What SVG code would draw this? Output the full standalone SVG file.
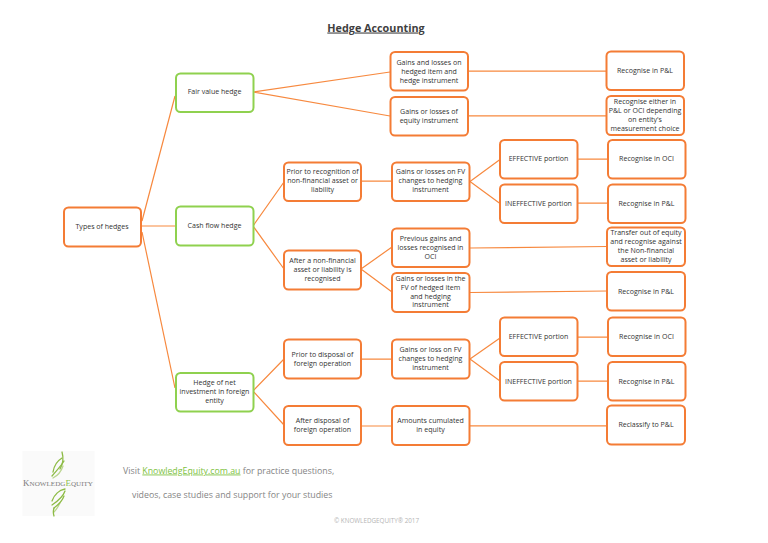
<svg xmlns="http://www.w3.org/2000/svg" width="768" height="543" viewBox="0 0 768 543">
<style>
text{font-family:"Open Sans","Noto Sans","Liberation Sans",sans-serif;}
.n rect{fill:#fff;stroke:#f47c35;stroke-width:2;}
.g rect{fill:#fff;stroke:#8fd14f;stroke-width:2;}
.n text,.g text{font-size:7.050px;fill:#333;text-anchor:middle;}
#connectors path{fill:none;stroke:#f7893f;stroke-width:1.200;}
.foot{font-size:8.800px;fill:#858585;}
.leaf{fill:none;stroke:#8dbb45;stroke-linecap:round;}
</style>
<rect width="768" height="543" fill="#fff"/>
<text x="376" y="31.500" font-size="10.800" font-weight="700" fill="#3f3f3f" text-anchor="middle" text-decoration="underline">Hedge Accounting</text>
<g id="connectors">
<path d="M142 221L175 96M142 226H176M142 232L175 388"/>
<path d="M253 92L390 72M253 92L390 116"/>
<path d="M253 226L284 182M253 226L284 269"/>
<path d="M361 181.200H392M361 269L392 247M361 269L392 292"/>
<path d="M253 391L284 359M253 391L284 425"/>
<path d="M361 359.200H392M361 426H392"/>
<path d="M468 71.200H606M468 115.800H606"/>
<path d="M470 181.500L500 159.500M470 181.500L500 203.500"/>
<path d="M470 359L500 338M470 359L500 381"/>
<path d="M577 159.200H608M577 203.200H608M577 337.200H608M577 381.200H608"/>
<path d="M470 248L607 246.500M470 292.500L607 291M470 425.800H607"/>
</g>
<g id="types" class="n"><rect x="64" y="207.500" width="77" height="39" rx="4.500"/><text x="102" y="229">Types of hedges</text></g>
<g id="fair-value" class="g"><rect x="176" y="73.500" width="77.500" height="38.500" rx="4.500"/><text x="214.500" y="94">Fair value hedge</text></g>
<g id="cash-flow" class="g"><rect x="176" y="206.500" width="77.500" height="39" rx="4.500"/><text x="214.500" y="228">Cash flow hedge</text></g>
<g id="net-investment" class="g"><rect x="176" y="373" width="77.500" height="38.500" rx="4.500"/><text x="214.500" y="385">Hedge of net</text><text x="214.500" y="394">investment in foreign</text><text x="214.500" y="403">entity</text></g>
<g id="prior-recognition" class="n"><rect x="284" y="162.500" width="77" height="38.500" rx="4.500"/><text x="322.500" y="174">Prior to recognition of</text><text x="322.500" y="183">non-financial asset or</text><text x="322.500" y="192">liability</text></g>
<g id="after-nonfinancial" class="n"><rect x="284" y="250.500" width="77" height="39" rx="4.500"/><text x="322.500" y="263">After a non-financial</text><text x="322.500" y="272">asset or liability is</text><text x="322.500" y="281">recognised</text></g>
<g id="prior-disposal" class="n"><rect x="284" y="339.500" width="77" height="39" rx="4.500"/><text x="322.500" y="356.500">Prior to disposal of</text><text x="322.500" y="365.500">foreign operation</text></g>
<g id="after-disposal" class="n"><rect x="284" y="406" width="77" height="39" rx="4.500"/><text x="322.500" y="422.500">After disposal of</text><text x="322.500" y="431.500">foreign operation</text></g>
<g id="gains-hedged" class="n"><rect x="390.500" y="52" width="77.500" height="38.500" rx="4.500"/><text x="429" y="64.500">Gains and losses on</text><text x="429" y="73.500">hedged item and</text><text x="429" y="82.500">hedge instrument</text></g>
<g id="gains-equity" class="n"><rect x="390.500" y="97" width="77.500" height="38.500" rx="4.500"/><text x="429" y="113.500">Gains or losses of</text><text x="429" y="122.500">equity instrument</text></g>
<g id="gains-fv-1" class="n"><rect x="392" y="162.500" width="77.500" height="38.500" rx="4.500"/><text x="430.500" y="174">Gains or losses on FV</text><text x="430.500" y="183">changes to hedging</text><text x="430.500" y="192">instrument</text></g>
<g id="previous-gains" class="n"><rect x="392" y="228.500" width="77.500" height="38.500" rx="4.500"/><text x="430.500" y="241">Previous gains and</text><text x="430.500" y="250">losses recognised in</text><text x="430.500" y="259">OCI</text></g>
<g id="gains-fv-hedged" class="n"><rect x="392" y="273" width="77.500" height="39" rx="4.500"/><text x="430.500" y="280.500">Gains or losses in the</text><text x="430.500" y="289.500">FV of hedged item</text><text x="430.500" y="298.500">and hedging</text><text x="430.500" y="307">instrument</text></g>
<g id="gains-fv-2" class="n"><rect x="392" y="339.500" width="77.500" height="39" rx="4.500"/><text x="430.500" y="351.800">Gains or loss on FV</text><text x="430.500" y="360.800">changes to hedging</text><text x="430.500" y="369.800">instrument</text></g>
<g id="amounts" class="n"><rect x="392" y="406" width="77.500" height="39" rx="4.500"/><text x="430.500" y="422.500">Amounts cumulated</text><text x="430.500" y="431.500">in equity</text></g>
<g id="effective-1" class="n"><rect x="500" y="140" width="77.500" height="38.500" rx="4.500"/><text x="538.500" y="161">EFFECTIVE portion</text></g>
<g id="ineffective-1" class="n"><rect x="500" y="184.500" width="77.500" height="38.500" rx="4.500"/><text x="538.500" y="205.500">INEFFECTIVE portion</text></g>
<g id="effective-2" class="n"><rect x="500" y="317.500" width="77.500" height="38.500" rx="4.500"/><text x="538.500" y="338.500">EFFECTIVE portion</text></g>
<g id="ineffective-2" class="n"><rect x="500" y="362" width="77.500" height="38.500" rx="4.500"/><text x="538.500" y="383.500">INEFFECTIVE portion</text></g>
<g id="recognise-pl-1" class="n"><rect x="606.500" y="51.500" width="77.500" height="38.500" rx="4.500"/><text x="645" y="73">Recognise in P&amp;L</text></g>
<g id="recognise-either" class="n"><rect x="606.500" y="96" width="77.500" height="39" rx="4.500"/><text x="645" y="104">Recognise either in</text><text x="645" y="113">P&amp;L or OCI depending</text><text x="645" y="122">on entity's</text><text x="645" y="130.500">measurement choice</text></g>
<g id="recognise-oci-1" class="n"><rect x="608" y="140" width="77.500" height="38.500" rx="4.500"/><text x="646.500" y="161">Recognise in OCI</text></g>
<g id="recognise-pl-2" class="n"><rect x="608" y="184.500" width="77.500" height="38.500" rx="4.500"/><text x="646.500" y="205.500">Recognise in P&amp;L</text></g>
<g id="transfer" class="n"><rect x="607" y="227.500" width="78" height="38.500" rx="4.500"/><text x="646" y="235">Transfer out of equity</text><text x="646" y="244">and recognise against</text><text x="646" y="253">the Non-financial</text><text x="646" y="262">asset or liability</text></g>
<g id="recognise-pl-3" class="n"><rect x="607" y="272" width="78" height="38.500" rx="4.500"/><text x="646" y="293.500">Recognise in P&amp;L</text></g>
<g id="recognise-oci-2" class="n"><rect x="608" y="317.500" width="77.500" height="38.500" rx="4.500"/><text x="646.500" y="338.500">Recognise in OCI</text></g>
<g id="recognise-pl-4" class="n"><rect x="608" y="362" width="77.500" height="38.500" rx="4.500"/><text x="646.500" y="383.500">Recognise in P&amp;L</text></g>
<g id="reclassify" class="n"><rect x="607" y="405.500" width="78" height="39" rx="4.500"/><text x="646" y="426.500">Reclassify to P&amp;L</text></g>
<g id="logo">
<rect x="22.500" y="451" width="72" height="65" fill="#fafafa"/>
<path class="leaf" stroke-width="1.300" d="M62 452C64 459 63 464 60 469"/>
<path class="leaf" stroke-width="1.300" d="M62 458C57 461 54 466 53 472"/>
<path class="leaf" stroke-width="1.300" d="M64 461C61 466 57 470 52 476"/>
<path class="leaf" stroke-width="1.300" opacity=".6" d="M63 466C61 472 57 476 53 478"/>
<path class="leaf" stroke-width="1.300" d="M65 489C59 490 54 495 52 501"/>
<path class="leaf" stroke-width="1.300" d="M65 491C63 497 58 501 52 505"/>
<path class="leaf" stroke-width="1.300" d="M64 496C62 502 58 505 54 508"/>
<path class="leaf" stroke-width="1.300" d="M54 508C53 511 53 513 54 516"/>
<path class="leaf" stroke-width="1.300" opacity=".6" d="M60 503C58 507 56 510 54 512"/>
<text x="58" y="486" font-size="9" text-anchor="middle" fill="#7a7a7a" style="font-family:'Liberation Serif',serif">K<tspan font-size="7.100">NOWLEDG</tspan><tspan fill="#8fbf4a">E</tspan><tspan font-size="7.100">QUITY</tspan></text>
</g>
<text x="123" y="473.500" class="foot">Visit <tspan fill="#7ec242" text-decoration="underline">KnowledgEquity.com.au</tspan> for practice questions,</text>
<text x="132" y="498" class="foot">videos, case studies and support for your studies</text>
<text x="376.500" y="523" font-size="6.300" fill="#b5b5b5" text-anchor="middle">© KNOWLEDGEQUITY® 2017</text>
</svg>
